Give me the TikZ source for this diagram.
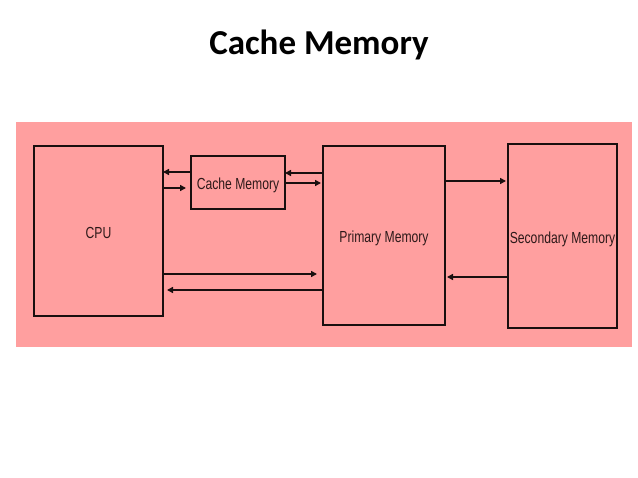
\documentclass[tikz,border=0pt]{standalone}
\usepackage{fontspec}
\setmainfont{Carlito}
\newfontfamily\arialf{Liberation Sans}
\usetikzlibrary{arrows.meta}
\definecolor{bgpink}{RGB}{255,159,159}
\definecolor{linec}{RGB}{25,15,15}
\definecolor{textc}{RGB}{45,25,25}
\tikzset{
  blk/.style={draw=linec, line width=1.6pt, outer sep=0pt, inner sep=0pt,
    font=\arialf\fontsize{16}{19}\selectfont, text=textc},
  arr/.style={draw=linec, line width=1.6pt, -{Triangle[length=6pt,width=6pt]}},
}
\newcommand{\cond}[1]{\raisebox{-7.5pt}[0pt][0pt]{\scalebox{0.76}[1]{#1}}}
\begin{document}
\begin{tikzpicture}[x=1pt,y=-1pt]
\useasboundingbox (0,0) rectangle (638,478);
\fill[white] (0,0) rectangle (638,478);
\fill[bgpink] (16,122) rectangle (632,347);
\node[font=\bfseries\fontsize{35}{42}\selectfont] (title) at (319,45) {Cache Memory};
\node[blk, minimum width=129pt, minimum height=170pt] (cpu) at (98.5,231) {\cond{CPU}};
\node[blk, minimum width=94pt, minimum height=53pt] (cache) at (238,182.5) {\cond{Cache Memory}};
\node[blk, minimum width=122pt, minimum height=179pt] (prim) at (384,235.5) {\cond{Primary Memory}};
\node[blk, minimum width=109pt, minimum height=184pt] (sec) at (562.5,236) {\cond{Secondary Memory}};
% CPU <-> cache
\draw[arr] (cache.west |- 0,172) -- (cpu.east |- 0,172);
\draw[arr, shorten >=5pt] (cpu.east |- 0,188) -- (cache.west |- 0,188);
% cache <-> primary
\draw[arr] (prim.west |- 0,173) -- (cache.east |- 0,173);
\draw[arr, shorten >=2pt] (cache.east |- 0,183) -- (prim.west |- 0,183);
% CPU <-> primary
\draw[arr, shorten >=6pt] (cpu.east |- 0,274) -- (prim.west |- 0,274);
\draw[arr, shorten >=4pt] (prim.west |- 0,290) -- (cpu.east |- 0,290);
% primary <-> secondary
\draw[arr, shorten >=2pt] (prim.east |- 0,181) -- (sec.west |- 0,181);
\draw[arr, shorten >=2pt] (sec.west |- 0,277) -- (prim.east |- 0,277);
\end{tikzpicture}
\end{document}
